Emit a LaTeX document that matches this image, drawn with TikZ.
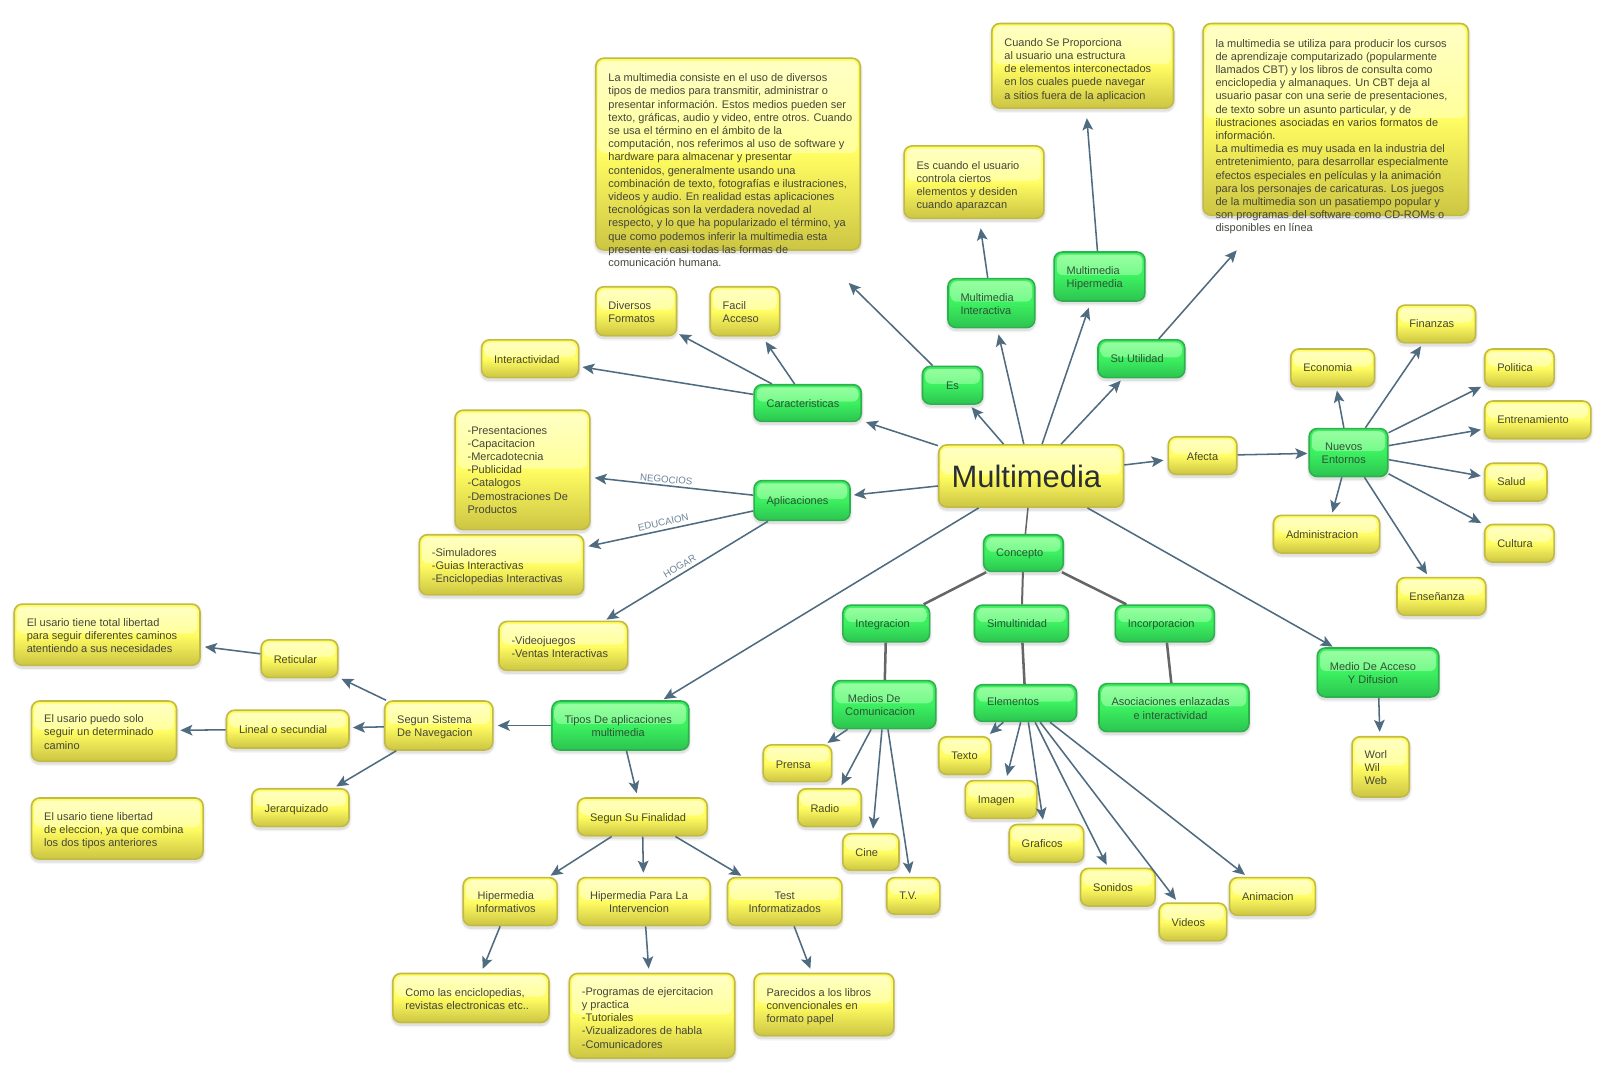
\documentclass[tikz,border=0pt]{standalone}
\usepackage{fontspec}
\setmainfont{Liberation Sans}
\usetikzlibrary{arrows.meta,calc}
\definecolor{ytop}{HTML}{FFFFC6}\definecolor{ygl}{HTML}{FFFF6E}\definecolor{ymid}{HTML}{FFFD62}\definecolor{ybot}{HTML}{CCC543}\definecolor{yedge}{HTML}{C2BA46}
\definecolor{gtop}{HTML}{9CFFA4}\definecolor{ggl}{HTML}{4CF46E}\definecolor{gmid}{HTML}{3CF060}\definecolor{gbot}{HTML}{2CC450}\definecolor{gedge}{HTML}{2FB04E}
\definecolor{conn}{HTML}{4F6B80}\definecolor{thickc}{HTML}{666666}\definecolor{labc}{HTML}{6E8599}\definecolor{txt}{HTML}{45453A}\definecolor{gtxt}{HTML}{2F5238}\definecolor{roottxt}{HTML}{2B2E36}
\tikzset{
 x=0.7653pt,y=-0.7653pt,
 basebox/.style={rectangle,rounded corners=6pt,inner sep=0pt,line width=1.2pt,
   preaction={draw=black,draw opacity=.04,line width=4pt,transform canvas={yshift=-1.6pt}},
   preaction={draw=black,draw opacity=.08,line width=2pt,transform canvas={yshift=-1.6pt}}},
 ybox/.style={basebox,text=txt,draw=yedge,top color=ymid,bottom color=ybot,middle color=ymid,
   path picture={\shade[rounded corners=4.5pt,top color=ytop,bottom color=ygl]
     ($(path picture bounding box.north west)+(2pt,-2pt)$) rectangle ($(path picture bounding box.east)+(-2pt,1pt)$);}},
 gbox/.style={basebox,text=gtxt,draw=gedge,top color=gmid,bottom color=gbot,middle color=gmid,
   path picture={\shade[rounded corners=4.5pt,top color=gtop,bottom color=ggl]
     ($(path picture bounding box.north west)+(2pt,-2pt)$) rectangle ($(path picture bounding box.east)+(-2pt,1pt)$);}},
 arr/.style={draw=conn,line width=1.15pt,-{Stealth[length=9pt,width=8pt,inset=2pt]},shorten >=#1*0.7653pt},
 arr/.default=3,
 plain/.style={draw=conn,line width=1.15pt},
 thk/.style={draw=thickc,line width=1.9pt},
 lab/.style={text=labc,font=\fontsize{7.3}{8}\selectfont,inner sep=0pt},
}
% \bx{name}{style}{x1}{y1}{x2}{y2}{l, c or m}{dy}{lines}
\newcommand{\bx}[9]{%
 \pgfmathsetmacro{\cxv}{(#3+#5)/2}\pgfmathsetmacro{\cyv}{(#4+#6)/2}%
 \pgfmathsetmacro{\wv}{(#5-#3)*0.7653}\pgfmathsetmacro{\hv}{(#6-#4)*0.7653}%
 \pgfmathsetmacro{\dyv}{3.6+(#8)*0.7653}%
 \def\mbalign{l}\def\colalign{l}\if#7c\def\mbalign{c}\def\colalign{c}\fi\if#7m\def\colalign{c}\fi
 \edef\tabopen{\noexpand\begin{tabular}[c]{@{}\colalign @{}}}%
 \node[#2,minimum width=\wv pt,minimum height=\hv pt] (#1) at (\cxv,\cyv)
  {\smash{\raisebox{-\dyv pt}{\makebox[\wv pt][\mbalign]{\if#7c\else\hspace{9.4pt}\fi\fontsize{8.25}{9.9}\selectfont\tabopen #9\end{tabular}}}}};}
\begin{document}
\begin{tikzpicture}
\useasboundingbox (0,0) rectangle (1568,1045.7);
\fill[white] (0,0) rectangle (1568,1045.7);
% top text boxes
\bx{def}{ybox}{584}{57}{843}{245}{l}{15}{La multimedia consiste en el uso de diversos\\tipos de medios para transmitir, administrar o\\presentar información. Estos medios pueden ser\\texto, gráficas, audio y video, entre otros. Cuando\\se usa el término en el ámbito de la\\computación, nos referimos al uso de software y\\hardware para almacenar y presentar\\contenidos, generalmente usando una\\combinación de texto, fotografías e ilustraciones,\\videos y audio. En realidad estas aplicaciones\\tecnológicas son la verdadera novedad al\\respecto, y lo que ha popularizado el término, ya\\que como podemos inferir la multimedia esta\\presente en casi todas las formas de\\comunicación humana.}
\bx{cuando}{ybox}{972}{23}{1150}{106}{l}{2}{Cuando Se Proporciona\\al usuario una estructura\\de elementos interconectados\\en los cuales puede navegar\\a sitios fuera de la aplicacion}
\bx{escuando}{ybox}{886}{143}{1023}{214}{l}{2}{Es cuando el usuario\\controla ciertos\\elementos y desiden\\cuando aparazcan}
\bx{uso}{ybox}{1179}{23}{1439}{211}{l}{15}{la multimedia se utiliza para producir los cursos\\de aprendizaje computarizado (popularmente\\llamados CBT) y los libros de consulta como\\enciclopedia y almanaques. Un CBT deja al\\usuario pasar con una serie de presentaciones,\\de texto sobre un asunto particular, y de\\ilustraciones asociadas en varios formatos de\\información.\\La multimedia es muy usada en la industria del\\entretenimiento, para desarrollar especialmente\\efectos especiales en películas y la animación\\para los personajes de caricaturas. Los juegos\\de la multimedia son un pasatiempo popular y\\son programas del software como CD-ROMs o\\disponibles en línea}
\bx{diversos}{ybox}{584}{281}{663}{329}{l}{0}{Diversos\\Formatos}
\bx{facil}{ybox}{696}{281}{764}{329}{l}{0}{Facil\\Acceso}
\bx{inter}{ybox}{472}{333}{567}{370}{l}{0}{Interactividad}
\bx{present}{ybox}{446}{402}{578}{519}{l}{-1}{-Presentaciones\\-Capacitacion\\-Mercadotecnia\\-Publicidad\\-Catalogos\\-Demostraciones De\\Productos}
\bx{simul}{ybox}{411}{524}{572}{583}{l}{0}{-Simuladores\\-Guias Interactivas\\-Enciclopedias Interactivas}
\bx{video}{ybox}{489}{609}{615}{657}{l}{0}{-Videojuegos\\-Ventas Interactivas}
% root
\pgfmathsetmacro{\wv}{181*0.7653}\pgfmathsetmacro{\hv}{61*0.7653}
\node[ybox,text=roottxt,minimum width=\wv pt,minimum height=\hv pt,font=\fontsize{23.2}{26}\selectfont] (mult) at (1010.5,466.5) {\makebox[\wv pt][l]{\hspace{9.6pt}Multimedia}};
% right
\bx{afecta}{ybox}{1145}{428}{1212}{465}{c}{0}{Afecta}
\bx{econ}{ybox}{1265}{342}{1347}{379}{l}{-1}{Economia}
\bx{fin}{ybox}{1369}{299}{1446}{336}{l}{-1}{Finanzas}
\bx{pol}{ybox}{1455}{342}{1523}{379}{l}{-1}{Politica}
\bx{ent}{ybox}{1455}{393}{1559}{430}{l}{-1}{Entrenamiento}
\bx{salud}{ybox}{1455}{454}{1516}{491}{l}{-1}{Salud}
\bx{cultura}{ybox}{1455}{514}{1523}{551}{l}{-1}{Cultura}
\bx{ensen}{ybox}{1369}{566}{1456}{603}{l}{-1}{Enseñanza}
\bx{admin}{ybox}{1248}{505}{1352}{542}{l}{0}{Administracion}
\bx{worl}{ybox}{1325}{722}{1381}{781}{l}{0}{Worl\\Wil\\Web}
% left
\bx{ret}{ybox}{256}{627}{331}{664}{l}{0}{Reticular}
\bx{usa}{ybox}{14}{592}{196}{652}{l}{0}{El usario tiene total libertad\\para seguir diferentes caminos\\atentiendo a sus necesidades}
\bx{lineal}{ybox}{222}{696}{342}{733}{l}{0}{Lineal o secundial}
\bx{usb}{ybox}{31}{687}{173}{746}{l}{0}{El usario puedo solo\\seguir un determinado\\camino}
\bx{jer}{ybox}{247}{773}{342}{810}{l}{0}{Jerarquizado}
\bx{usc}{ybox}{31}{782}{199}{842}{l}{0}{El usario tiene libertad\\de eleccion, ya que combina\\los dos tipos anteriores}
\bx{segsis}{ybox}{377}{687}{483}{735}{l}{0}{Segun Sistema\\De Navegacion}
\bx{segfin}{ybox}{566}{782}{693}{819}{l}{0}{Segun Su Finalidad}
\bx{hip}{ybox}{454}{860}{546}{907}{m}{0}{Hipermedia\\Informativos}
\bx{hipint}{ybox}{566}{860}{696}{907}{m}{0}{Hipermedia Para La\\Intervencion}
\bx{test}{ybox}{713}{860}{825}{907}{c}{0}{Test\\Informatizados}
\bx{como}{ybox}{385}{954}{538}{1002}{l}{0}{Como las enciclopedias,\\revistas electronicas etc..}
\bx{prog}{ybox}{558}{954}{720}{1037}{l}{1}{-Programas de ejercitacion\\y practica\\-Tutoriales\\-Vizualizadores de habla\\-Comunicadores}
\bx{parec}{ybox}{739}{954}{876}{1015}{l}{0}{Parecidos a los libros\\convencionales en\\formato papel}
\bx{prensa}{ybox}{748}{730}{815}{766}{l}{0}{Prensa}
\bx{radio}{ybox}{782}{773}{844}{810}{l}{0}{Radio}
\bx{cine}{ybox}{826}{817}{881}{853}{l}{0}{Cine}
\bx{tv}{ybox}{869}{860}{921}{896}{l}{-1}{T.V.}
\bx{texto}{ybox}{920}{722}{971}{759}{l}{-1}{Texto}
\bx{imagen}{ybox}{946}{765}{1016}{802}{l}{-1}{Imagen}
\bx{graf}{ybox}{989}{808}{1062}{845}{l}{-1}{Graficos}
\bx{son}{ybox}{1059}{851}{1132}{888}{l}{-1}{Sonidos}
\bx{vid}{ybox}{1136}{885}{1202}{922}{l}{0}{Videos}
\bx{anim}{ybox}{1205}{860}{1289}{897}{l}{-1}{Animacion}
% green
\bx{mint}{gbox}{929}{273}{1014}{321}{l}{0}{Multimedia\\Interactiva}
\bx{mhip}{gbox}{1033}{247}{1122}{295}{l}{0}{Multimedia\\Hipermedia}
\bx{util}{gbox}{1076}{333}{1161}{370}{l}{-1}{Su Utilidad}
\bx{es}{gbox}{904}{359}{963}{396}{c}{0}{Es}
\bx{carac}{gbox}{739}{377}{844}{413}{l}{0}{Caracteristicas}
\bx{aplic}{gbox}{739}{471}{833}{510}{l}{-1}{Aplicaciones}
\bx{conc}{gbox}{964}{524}{1042}{560}{l}{-1}{Concepto}
\bx{integ}{gbox}{826}{593}{911}{629}{l}{-1}{Integracion}
\bx{simult}{gbox}{955}{593}{1047}{629}{l}{-1}{Simultinidad}
\bx{incorp}{gbox}{1093}{593}{1190}{629}{l}{-1}{Incorporacion}
\bx{medios}{gbox}{816}{667}{917}{714}{l}{0}{\hspace{2pt}Medios De\\Comunicacion}
\bx{elem}{gbox}{955}{671}{1055}{707}{l}{-2}{Elementos}
\bx{asoc}{gbox}{1077}{670}{1224}{717}{m}{0}{Asociaciones enlazadas\\e interactividad}
\bx{nuevos}{gbox}{1283}{420}{1360}{467}{m}{0}{Nuevos\\Entornos}
\bx{macc}{gbox}{1291}{635}{1410}{683}{m}{0}{Medio De Acceso\\Y Difusion}
\bx{tipos}{gbox}{541}{687}{675}{735}{m}{0}{Tipos De aplicaciones\\multimedia}
% connectors
\draw[arr=4] (mult)--(carac);
\draw[arr=3] (mult)--(aplic);
\draw[arr=3] (mult)--(es);
\draw[arr=6] (mult)--(mint);
\draw[arr=6] (mult)--(mhip);
\draw[arr=3] (mult)--(util);
\draw[arr=4] (mult)--(afecta);
\draw[arr=2] (mult)--(tipos);
\draw[arr=1] (mult)--(macc);
\draw[plain,draw=thickc!85!conn] (mult)--(conc);
\draw[arr=9] (mint)--(escuando);
\draw[arr=9] (mhip)--(cuando);
\draw[arr=180] (es)--($(def.center)+(-10,0)$);
\draw[arr=171] (util)--($(uso.center)+(16,0)$);
\draw[arr=2] (carac)--(diversos);
\draw[arr=6] (carac)--(facil);
\draw[arr=3] (carac)--(inter);
\draw[arr=4] (aplic)--(present);
\draw[arr=4] (aplic)--(simul);
\draw[arr=2] (aplic)--(video);
\node[lab,rotate=-5] (lneg) at (653,470) {NEGOCIOS};
\node[lab,rotate=12] (ledu) at (650,512) {EDUCAION};
\node[lab,rotate=30] (lhog) at (666,555) {HOGAR};
\draw[arr=1] (afecta)--(nuevos);
\draw[arr=3] (nuevos)--(econ);
\draw[arr=3] (nuevos)--(fin);
\draw[arr=3] (nuevos)--(pol);
\draw[arr=3] (nuevos)--(ent);
\draw[arr=3] (nuevos)--(salud);
\draw[arr=3] (nuevos)--(cultura);
\draw[arr=3] (nuevos)--(ensen);
\draw[arr=2] (nuevos)--(admin);
\draw[arr=4] (macc)--(worl);
\draw[thk] (conc)--(integ);
\draw[thk,line width=1.5pt] (conc)--(simult);
\draw[thk] (conc)--(incorp);
\draw[thk] (integ)--(medios);
\draw[thk] (simult)--(elem);
\draw[thk] (incorp)--(asoc);
\draw[arr=2] (medios)--(prensa);
\draw[arr=3] (medios)--(radio);
\draw[arr=4] (medios)--(cine);
\draw[arr=3] (medios)--(tv);
\draw[arr=3] (elem)--(texto);
\draw[arr=4] (elem)--(imagen);
\draw[arr=4] (elem)--(graf);
\draw[arr=3] (elem)--(son);
\draw[arr=3] (elem)--(vid);
\draw[arr=3] (elem)--(anim);
\draw[arr=4] (tipos)--(segsis);
\draw[arr=4] (tipos)--(segfin);
\draw[arr=3] (segsis)--(lineal);
\draw[arr=3] (segsis)--(ret);
\draw[arr=3] (segsis)--(jer);
\draw[arr=4] (ret)--(usa);
\draw[arr=3] (lineal)--(usb);
\draw[arr=2] (segfin)--(hip);
\draw[arr=4] (segfin)--(hipint);
\draw[arr=2] (segfin)--(test);
\draw[arr=4] (hip)--(como);
\draw[arr=4] (hipint)--(prog);
\draw[arr=4] (test)--(parec);
\end{tikzpicture}
\end{document}
